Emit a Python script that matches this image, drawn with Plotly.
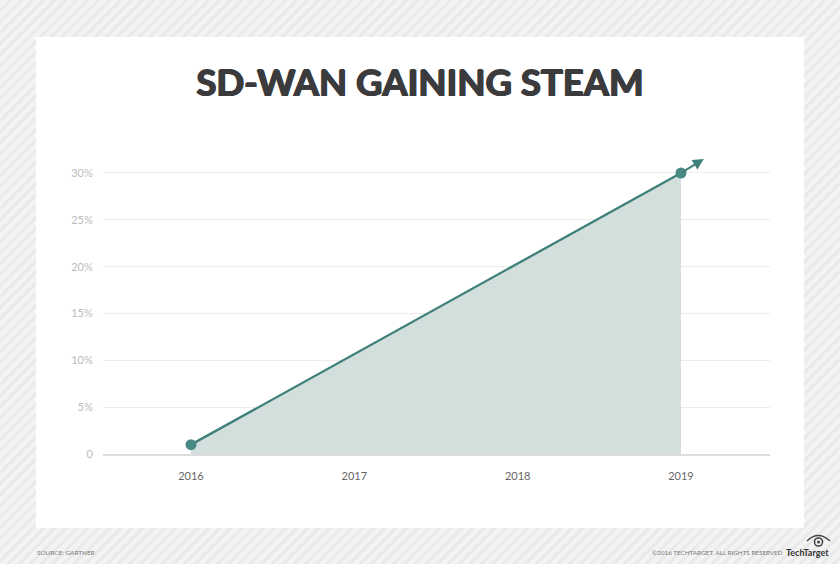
import plotly.graph_objects as go

# data
years = [2016, 2019]
share = [1, 30]
arrow_tip = [2019.14, 31.5]
x_ticks = [2016, 2017, 2018, 2019]
y_ticks = [0, 5, 10, 15, 20, 25, 30]
y_labels = ["0", "5%", "10%", "15%", "20%", "25%", "30%"]

W, H = 840, 564
L, R, T, B = 103, 770, 140, 454

TEAL = "#3f807b"


def px(x):
    return (x - L) / (R - L)


def py(y):
    return (B - y) / (B - T)


# diagonal stripes of the backdrop
stripes = ""
for x0 in range(-H, W + 20, 11):
    stripes += f"M{px(x0)},{py(H)} L{px(x0 + H)},{py(0)} "

shapes = [
    dict(type="path", path=stripes, xref="paper", yref="paper",
         line=dict(color="#e9e9e9", width=3), layer="below"),
    dict(type="rect", xref="paper", yref="paper", x0=px(36), x1=px(804), y0=py(528), y1=py(37),
         fillcolor="white", line_width=0, layer="below"),
    # logo eye
    dict(type="path", xref="paper", yref="paper", layer="above",
         path=f"M{px(807)},{py(541)} Q{px(818)},{py(530)} {px(830)},{py(541)}",
         line=dict(color="#444444", width=1.3)),
    dict(type="circle", xref="paper", yref="paper", layer="above",
         x0=px(814.5), x1=px(822.5), y0=py(546), y1=py(538),
         line=dict(color="#444444", width=1.6), fillcolor="#f3f3f3"),
    dict(type="circle", xref="paper", yref="paper", layer="above",
         x0=px(817), x1=px(820), y0=py(543.5), y1=py(540.5),
         line_width=0, fillcolor="#444444"),
]

fig = go.Figure()
fig.add_trace(go.Scatter(
    x=years, y=share, mode="lines+markers", fill="tozeroy", fillcolor="#d2dfdd",
    line=dict(color=TEAL, width=2.3),
    marker=dict(color="#4a8a85", size=11),
    cliponaxis=False, showlegend=False,
))

annotations = [
    dict(x=arrow_tip[0], y=arrow_tip[1], ax=years[-1], ay=share[-1], xref="x", yref="y",
         axref="x", ayref="y", text="", showarrow=True, arrowhead=2, arrowsize=1.1,
         arrowwidth=2, arrowcolor=TEAL),
    dict(x=px(36), y=py(552), xref="paper", yref="paper", xanchor="left", yanchor="middle",
         text="SOURCE: GARTNER", showarrow=False, xshift=-1,
         font=dict(family="Lato", size=6.4, color="#777777")),
    dict(x=px(785), y=py(552), xref="paper", yref="paper", xanchor="right", yanchor="middle",
         text="©2016 TECHTARGET. ALL RIGHTS RESERVED", showarrow=False,
         font=dict(family="Lato", size=6.3, color="#777777")),
    dict(x=px(831), y=py(552), xref="paper", yref="paper", xanchor="right", yanchor="middle",
         text="TechTarget", showarrow=False,
         font=dict(family="Lato", size=9, color="#333333", weight=700)),
]

fig.update_layout(
    width=W, height=H,
    margin=dict(l=L, r=W - R, t=T, b=H - B, autoexpand=False),
    paper_bgcolor="#f3f3f3",
    plot_bgcolor="rgba(0,0,0,0)",
    title=dict(text="SD-WAN GAINING STEAM", x=0.5, xref="container", xanchor="center",
               y=1 - 83 / H, yanchor="middle",
               font=dict(family="Lato", size=36.5, color="#3b3b3d", weight=700,
                         shadow="0.8px 0 0 #3b3b3d, -0.8px 0 0 #3b3b3d, 0 0.5px 0 #3b3b3d, 0 -0.5px 0 #3b3b3d")),
    xaxis=dict(range=[2016 - 88 / 163.33, 2019 + 89 / 163.33], tickmode="array", tickvals=x_ticks,
               ticktext=[str(y) for y in x_ticks], showgrid=False, zeroline=False,
               ticks="outside", ticklen=11, tickcolor="rgba(0,0,0,0)",
               tickfont=dict(family="Lato", size=11, color="#666666"),
               showline=True, linecolor="#dddddd", linewidth=2),
    yaxis=dict(range=[0, (B - T) / 9.367], tickmode="array", tickvals=y_ticks, ticktext=y_labels,
               showgrid=True, gridcolor="#ececec", gridwidth=1, zeroline=False,
               ticks="outside", ticklen=7, tickcolor="rgba(0,0,0,0)",
               tickfont=dict(family="Lato", size=11, color="#bbbbbb")),
    shapes=shapes,
    annotations=annotations,
)

# the page's default body margin would push the figure off by 8px
fig.write_html("out.html", post_script="document.body.style.margin='0';",
               config=dict(displayModeBar=False))
